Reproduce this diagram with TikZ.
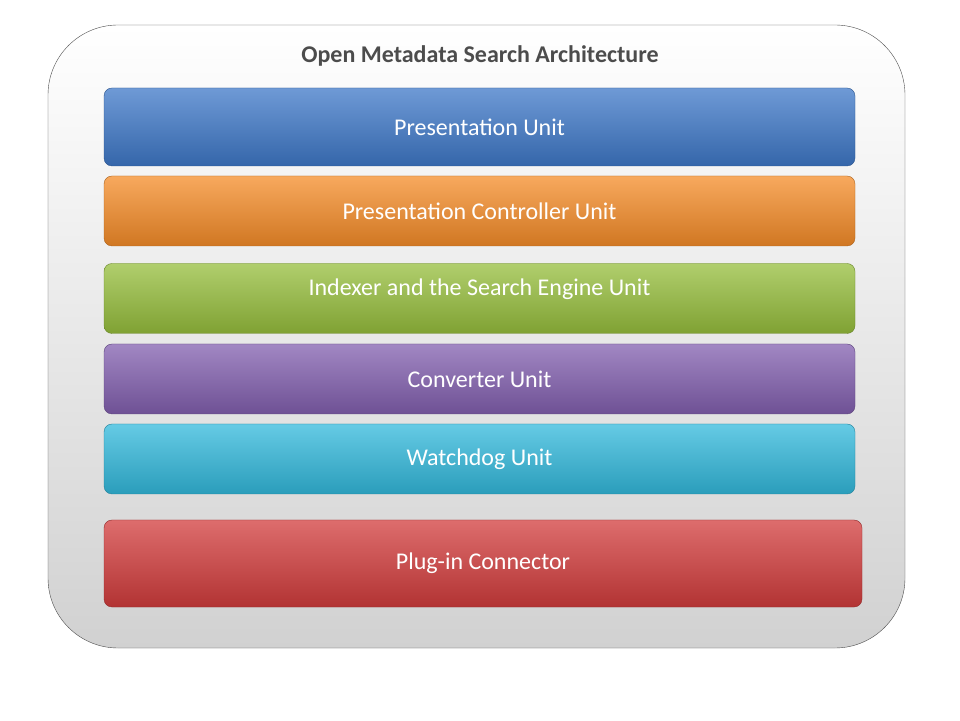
\documentclass[tikz,border=0pt]{standalone}
\usepackage{fontspec}
\setmainfont{Carlito}
\begin{document}
\begin{tikzpicture}[x=1pt,y=1pt,
  unit/.style={rounded corners=8pt,draw=#1!70!black,top color=#1!75!white,bottom color=#1!85!black,
    text=white,font=\fontsize{24}{28}\selectfont,minimum width=751pt,minimum height=70pt,inner sep=0pt}]
\useasboundingbox (0,0) rectangle (960,720);
\definecolor{ublue}{RGB}{62,120,200}
\definecolor{uorange}{RGB}{245,140,40}
\definecolor{ugreen}{RGB}{150,190,60}
\definecolor{upurple}{RGB}{130,95,175}
\definecolor{ucyan}{RGB}{50,185,220}
\definecolor{ured}{RGB}{210,60,60}

\draw [rounded corners=70pt,draw=black!70,top color=white,bottom color=black!18] (48,72) rectangle (905,695);
\node (title) at (480,664) {\fontsize{24}{28}\selectfont\bfseries\color{black!70}Open Metadata Search Architecture};

\node [unit=ublue,minimum height=78pt] (pres) at (479.5,593) {Presentation Unit};
\node [unit=uorange] (ctrl) at (479.5,509) {Presentation Controller Unit};
\node [unit=ugreen,text depth=23pt] (index) at (479.5,421.5) {Indexer and the Search Engine Unit};
\node [unit=upurple] (conv) at (479.5,341) {Converter Unit};
\node [unit=ucyan] (watch) at (479.5,261) {Watchdog Unit};
\node [unit=ured,minimum width=758pt,minimum height=87pt] (plug) at (483,156.5) {Plug-in Connector};
\end{tikzpicture}
\end{document}
